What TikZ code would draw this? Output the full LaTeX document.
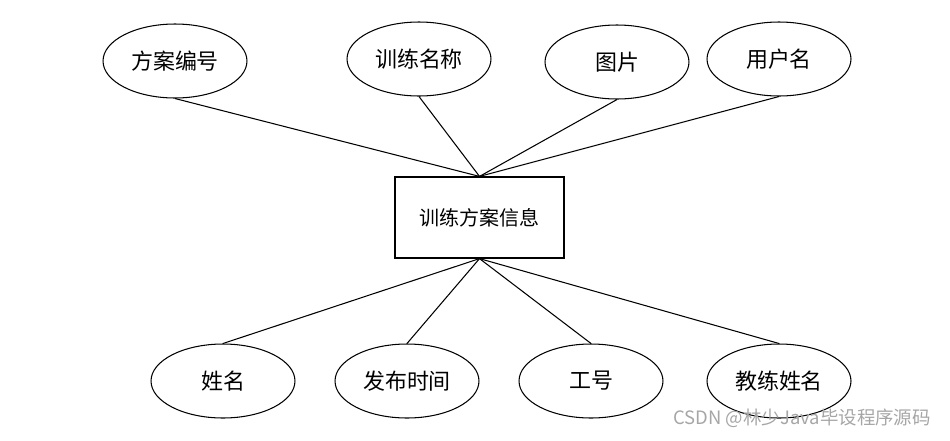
\documentclass[tikz,border=0pt]{standalone}
\usepackage{fontspec}
\newfontfamily\cjk{Noto Sans CJK SC}
\usetikzlibrary{shapes.geometric}
\tikzset{
    attr/.style={ellipse, draw, line width=0.6pt, minimum width=2.88cm, minimum height=1.48cm, inner sep=0pt, font=\cjk\fontsize{12.5}{14}\selectfont},
    entity/.style={rectangle, draw, line width=0.7pt, minimum width=3.38cm, minimum height=1.62cm, font=\cjk\fontsize{11.4}{13}\selectfont},
    link/.style={line width=0.6pt}
}
\begin{document}
\begin{tikzpicture}[x=0.02cm, y=-0.02cm]
    \useasboundingbox (0, 0) rectangle (950, 440);
    % 实体
    \node[entity] (plan) at (479.5, 217.5) {训练方案信息};

    % 上方属性
    \node[attr] (planno) at (175, 61) {方案编号};
    \node[attr] (trainname) at (419, 59) {训练名称};
    \node[attr] (picture) at (617, 62) {图片};
    \node[attr] (username) at (779, 59) {用户名};

    % 下方属性
    \node[attr] (name) at (223, 381) {姓名};
    \node[attr] (pubtime) at (407, 381) {发布时间};
    \node[attr] (jobno) at (591, 381) {工号};
    \node[attr] (coachname) at (779, 381) {教练姓名};

    % 连线
    \foreach \a in {planno, trainname, picture, username} {
        \draw[link] (plan.north) -- (\a.south);
    }
    \foreach \a in {name, pubtime, jobno, coachname} {
        \draw[link] (plan.south) -- (\a.north);
    }

    % 水印
    \node[anchor=east, text=gray!70, font=\cjk\fontsize{10.5}{12}\selectfont] (mark) at (937, 418) {CSDN @林少Java毕设程序源码};
\end{tikzpicture}
\end{document}
